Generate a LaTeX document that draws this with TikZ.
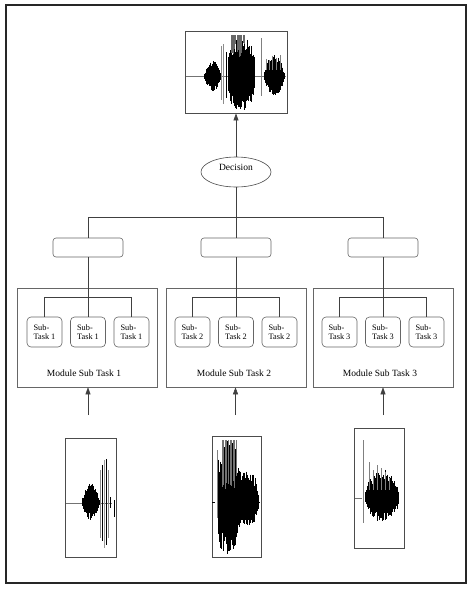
\documentclass[tikz,border=0pt]{standalone}
\usepackage{fontspec}
\setmainfont{Liberation Serif}
\usetikzlibrary{arrows.meta,shapes.geometric}
% #1 x0, #2 x1, #3 up, #4 down, #5 colour, #6 baseline, #7 step, #8 envelope exponent
\newcommand\wburst[8]{%
  \pgfmathsetmacro\xsec{#1+#7}%
  \foreach \xx in {#1,\xsec,...,#2}{%
    \pgfmathsetmacro\ee{max(0.05,sin(180*(\xx-#1)/(#2-#1)))^#8}%
    \pgfmathsetmacro\ra{#3*\ee*(0.6+0.4*rnd)}%
    \pgfmathsetmacro\rb{#4*\ee*(0.6+0.4*rnd)}%
    \draw[#5,line width=#7pt] (\xx,#6-\ra) -- (\xx,#6+\rb);
  }}
\begin{document}
\begin{tikzpicture}[x=1pt,y=-1pt,
  ln/.style={draw=black!75,line width=0.6pt},
  wbox/.style={draw=black!70,line width=0.9pt,inner sep=0pt},
  topbox/.style={draw=black!60,line width=0.6pt,rounded corners=3pt,minimum width=70pt,minimum height=19pt,inner sep=0pt},
  subbox/.style={draw=black!60,line width=0.6pt,rounded corners=4pt,minimum width=35pt,minimum height=30pt,inner sep=0pt,align=left,font=\fontsize{8.3}{9.5}\selectfont},
  modbox/.style={draw=black!60,line width=0.6pt,minimum width=140pt,minimum height=99pt,inner sep=0pt},
  lbl/.style={font=\fontsize{9.5}{11}\selectfont,inner sep=0pt},
  arr/.style={draw=black!75,line width=0.6pt,-{Triangle[length=7pt,width=5pt]}}]
\useasboundingbox (0,0) rectangle (474,592);
\pgfmathsetseed{7}
% outer frame
\draw[black!85,line width=1.8pt] (6,5) rectangle (466,583);

% top waveform box
\node[wbox,minimum width=102pt,minimum height=82pt] (top) at (236,72) {};
\node[draw=black!70,line width=0.6pt,ellipse,minimum width=70pt,minimum height=30pt,inner sep=0pt] (dec) at (236,172) {};
\node[lbl] (dect) at (236,167) {Decision};
\draw[arr] (dec.north) -- (top.south);

% top level boxes
\node[topbox] (t1) at (88,247.5) {};
\node[topbox] (t2) at (236,247.5) {};
\node[topbox] (t3) at (383,247.5) {};
\draw[ln] (dec.south) -- (t2.north);
\draw[ln] (t1.north) -- ++(0,-20) coordinate (bl) -| (t3.north);

% modules
\node[modbox] (m1) at (87,337.5) {};
\node[modbox] (m2) at (236,337.5) {};
\node[modbox] (m3) at (383,337.5) {};

\node[subbox] (s11) at (44.5,332) {Sub-\\Task 1};
\node[subbox] (s12) at (88,332) {Sub-\\Task 1};
\node[subbox] (s13) at (131.5,332) {Sub-\\Task 1};
\node[subbox] (s21) at (192.5,332) {Sub-\\Task 2};
\node[subbox] (s22) at (236,332) {Sub-\\Task 2};
\node[subbox] (s23) at (279.5,332) {Sub-\\Task 2};
\node[subbox] (s31) at (339.5,332) {Sub-\\Task 3};
\node[subbox] (s32) at (383,332) {Sub-\\Task 3};
\node[subbox] (s33) at (426.5,332) {Sub-\\Task 3};

\draw[ln] (t1.south) -- (s12.north);
\draw[ln] (s11.north) -- ++(0,-19) -| (s13.north);
\draw[ln] (t2.south) -- (s22.north);
\draw[ln] (s21.north) -- ++(0,-19) -| (s23.north);
\draw[ln] (t3.south) -- (s32.north);
\draw[ln] (s31.north) -- ++(0,-19) -| (s33.north);

\node[lbl] (ml1) at (84,373) {Module Sub Task 1};
\node[lbl] (ml2) at (234,373) {Module Sub Task 2};
\node[lbl] (ml3) at (380,373) {Module Sub Task 3};

% input arrows
\coordinate (a1) at (88,415);
\coordinate (a2) at (235.5,415);
\coordinate (a3) at (383,415);
\draw[arr] (a1) -- (a1 |- m1.south);
\draw[arr] (a2) -- (a2 |- m2.south);
\draw[arr] (a3) -- (a3 |- m3.south);

% bottom waveform boxes
\node[wbox,minimum width=51pt,minimum height=119pt] (b1) at (90.5,497.5) {};
\node[wbox,minimum width=49pt,minimum height=121pt] (b2) at (236.5,496.5) {};
\node[wbox,minimum width=50pt,minimum height=120pt] (b3) at (379,488) {};

% ---- waveform: top ----
\draw[black!55,line width=0.6pt] (186,76) -- (286,76);
\wburst{204}{221}{15}{16}{black}{76}{0.6}{0.7}
\draw[black!45,line width=0.9pt] (221,46) -- (221,100);
\draw[black!45,line width=0.9pt] (223.5,44) -- (223.5,104);
\draw[black,line width=0.6pt] (226,52) -- (226,98);
\wburst{228}{254}{41}{35}{black}{76}{0.6}{0.25}
\foreach \xx in {231,232.2,...,245}{\pgfmathsetmacro\hh{8+18*rnd}\draw[black!60,line width=1pt] (\xx,35) -- (\xx,35+\hh);}
\draw[black!50,line width=0.9pt] (261,38) -- (261,96);
\wburst{264}{284}{22}{20}{black}{76}{0.6}{0.6}
\foreach \xx in {266,269,272,276,280}{\pgfmathsetmacro\hh{16+6*rnd}\draw[black!50,line width=0.8pt] (\xx,76-\hh) -- (\xx,70);}

% ---- waveform: bottom 1 ----
\draw[black!55,line width=0.6pt] (66,503) -- (112,503);
\wburst{82}{99}{20}{17}{black}{503}{0.6}{0.6}
\draw[black!45,line width=0.9pt] (100,470) -- (100,538);
\draw[black,line width=0.8pt] (102,465) -- (102,541);
\draw[black!40,line width=0.9pt] (104,460) -- (104,548);
\draw[black,line width=0.8pt] (106,459) -- (106,545);
\draw[black!45,line width=0.8pt] (108,470) -- (108,538);
\draw[black,line width=0.8pt] (110,497) -- (110,508);
\draw[black,line width=1pt] (114,500) -- (114,517);

% ---- waveform: bottom 2 ----
\draw[black,line width=0.8pt] (212,502) -- (215,502);
\draw[black!50,line width=0.9pt] (217,450) -- (217,518);
\wburst{218}{238}{62}{54}{black}{502}{0.6}{0.15}
\foreach \xx in {222,223.6,...,238}{\pgfmathsetmacro\hh{35+15*rnd}\draw[black!55,line width=0.9pt] (\xx,440) -- (\xx,440+\hh);}
\wburst{232}{258}{36}{28}{black}{502}{0.6}{0.4}
\draw[black,line width=0.8pt] (258,502) -- (260,502);

% ---- waveform: bottom 3 ----
\draw[black!55,line width=0.6pt] (355,498) -- (362,498);
\draw[black!50,line width=0.9pt] (363,440) -- (363,523);
\wburst{365}{399}{30}{24}{black}{498}{0.6}{0.5}
\foreach \xx/\hh in {369/462,373/470,377/465,381/468,385/472,389/478}{\draw[black!50,line width=0.9pt] (\xx,\hh) -- (\xx,490);}
\end{tikzpicture}
\end{document}
